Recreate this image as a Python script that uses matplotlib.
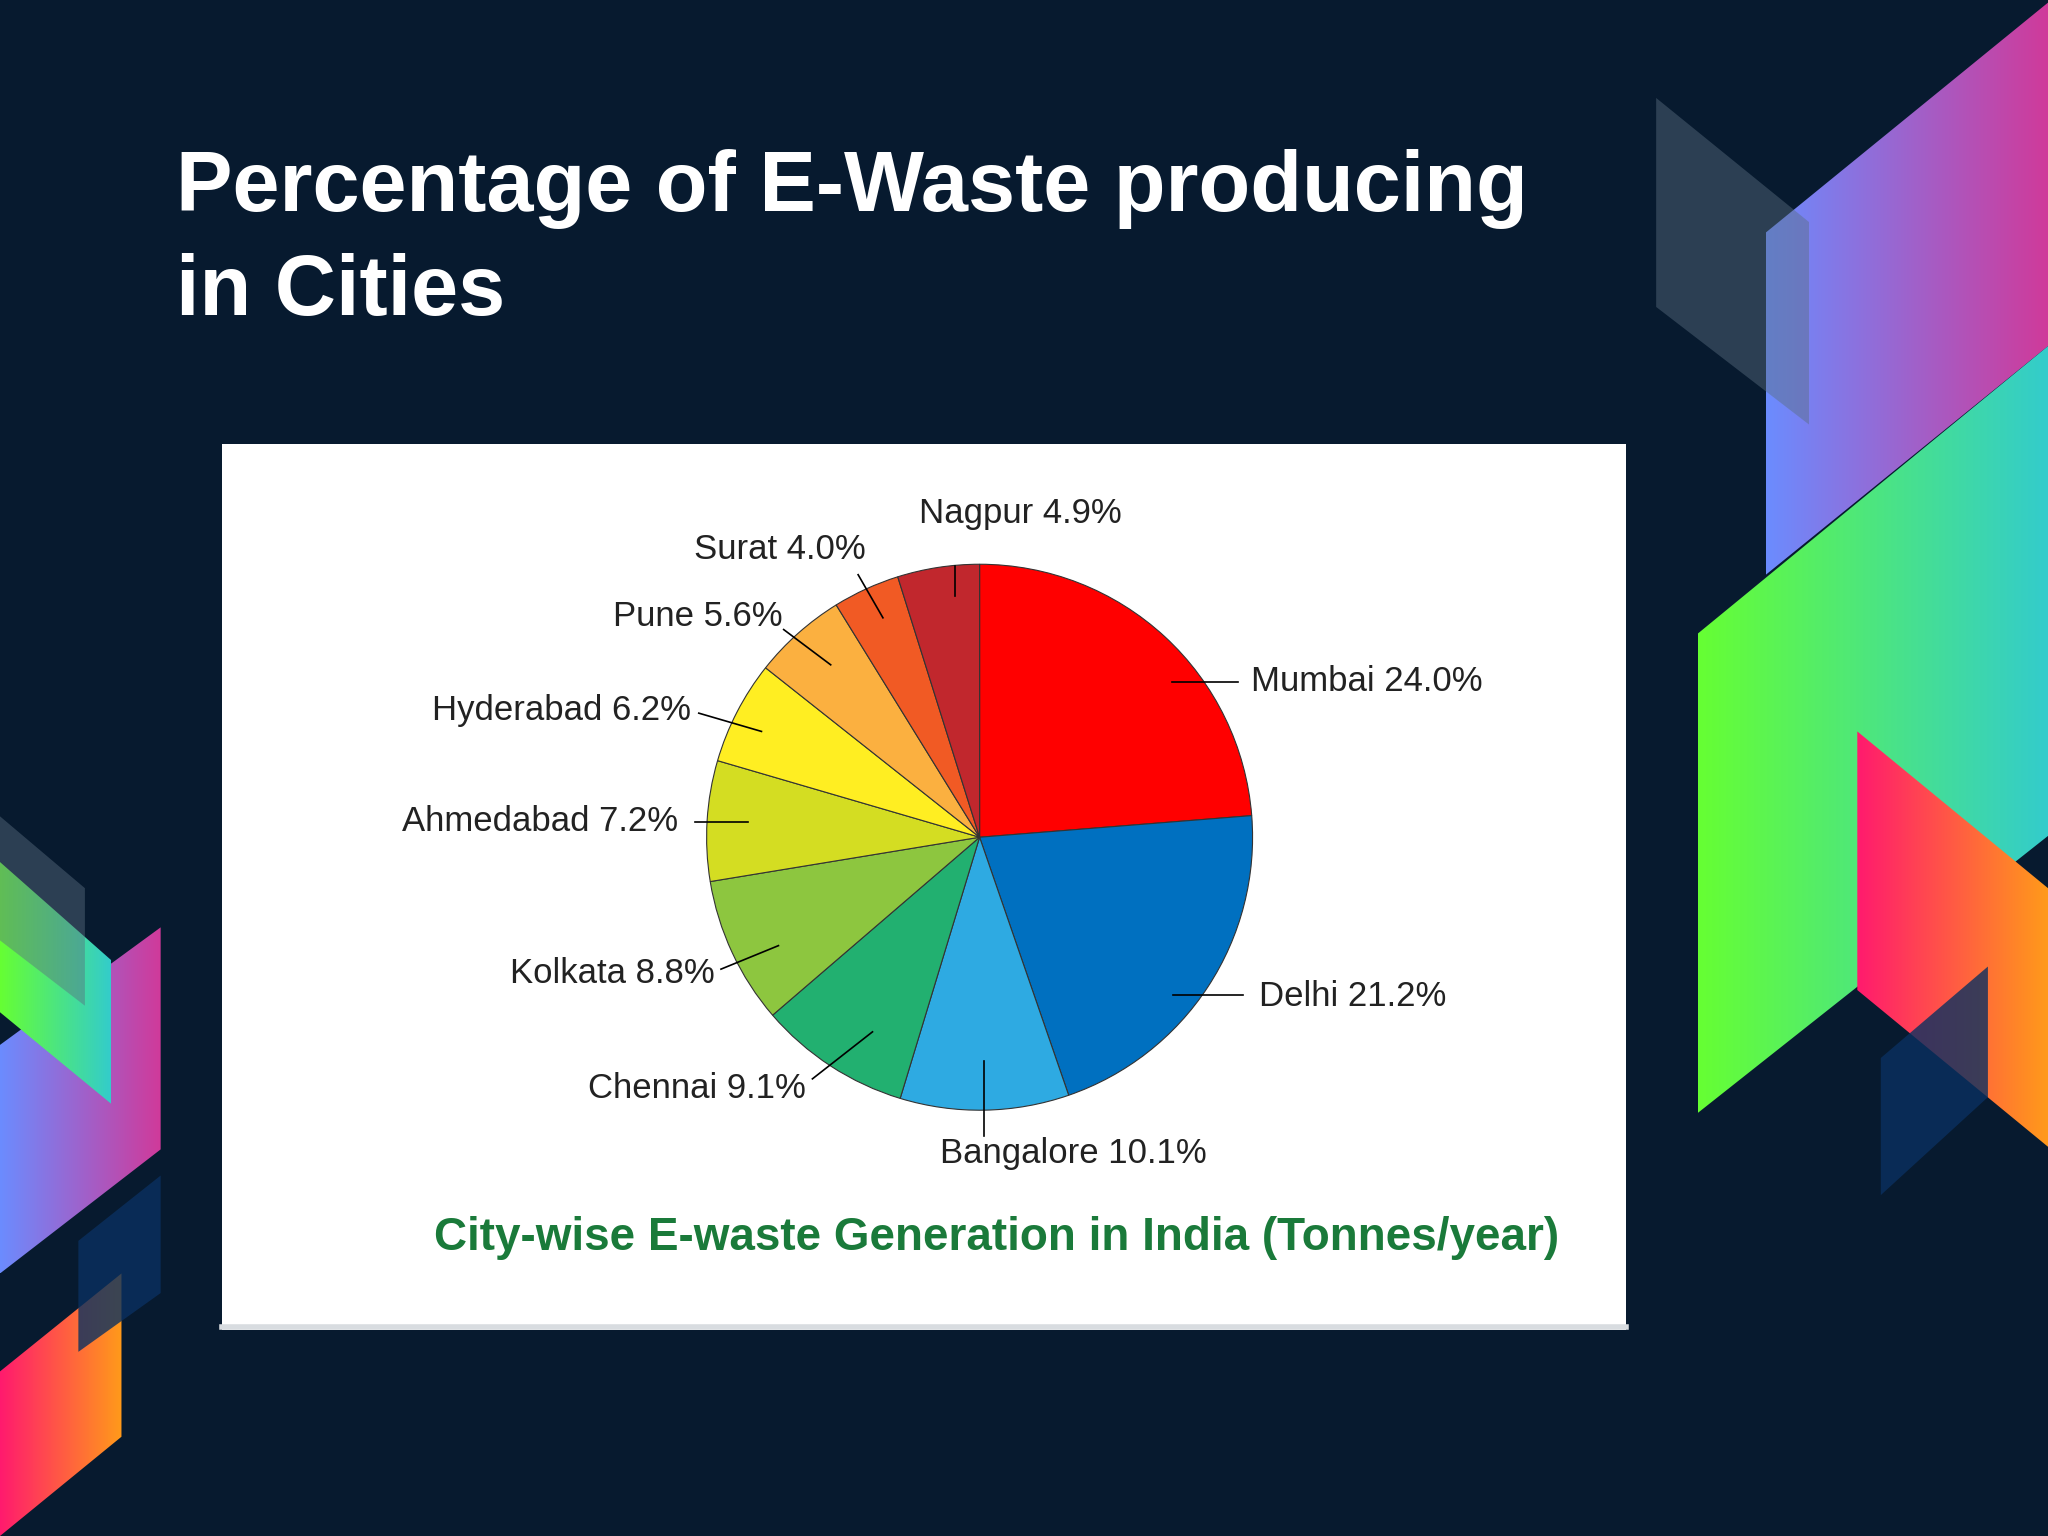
import numpy as np
import matplotlib
matplotlib.use('Agg')
import matplotlib.pyplot as plt
from matplotlib.patches import Polygon, Rectangle
from matplotlib.colors import LinearSegmentedColormap

plt.rcParams['font.family'] = ['Liberation Sans', 'DejaVu Sans']

cities = ['Mumbai', 'Delhi', 'Bangalore', 'Chennai', 'Kolkata',
          'Ahmedabad', 'Hyderabad', 'Pune', 'Surat', 'Nagpur']
shares = [24.0, 21.2, 10.1, 9.1, 8.8, 7.2, 6.2, 5.6, 4.0, 4.9]
colors = ['#ff0000', '#0070c0', '#2eaae2', '#22b070', '#8dc63f',
          '#d4dd22', '#ffee22', '#fbb040', '#f15a24', '#c1272d']

W, H = 1568, 1176  # layout units
fig = plt.figure(figsize=(20.48, 15.36), dpi=100)
fig.patch.set_facecolor('#071a2f')
bg = fig.add_axes([0, 0, 1, 1])
bg.set_xlim(0, W)
bg.set_ylim(H, 0)
bg.axis('off')


def grad_poly(pts, c1, c2, alpha=1.0):
    poly = Polygon(pts, closed=True, facecolor='none', edgecolor='none')
    bg.add_patch(poly)
    xs = [p[0] for p in pts]
    ys = [p[1] for p in pts]
    cmap = LinearSegmentedColormap.from_list('g', [c1, c2])
    g = np.linspace(0, 1, 256).reshape(1, -1)
    im = bg.imshow(g, cmap=cmap, aspect='auto', alpha=alpha,
                   extent=(min(xs), max(xs), max(ys), min(ys)))
    im.set_clip_path(poly)


# right-side decoration
bg.add_patch(Polygon([(1268, 75), (1385, 170), (1385, 325), (1268, 235)],
                     facecolor='#5a6e80', alpha=0.45, edgecolor='none'))
grad_poly([(1352, 178), (1568, 2), (1568, 265), (1352, 440)], '#6b8cff', '#d03a9a')
grad_poly([(1300, 485), (1568, 265), (1568, 640), (1300, 852)], '#66ff33', '#33cccc')
grad_poly([(1422, 560), (1568, 680), (1568, 878), (1422, 758)], '#ff1a6e', '#ff9a1a')
bg.add_patch(Polygon([(1440, 810), (1522, 740), (1522, 840), (1440, 915)],
                     facecolor='#0a3060', alpha=0.8, edgecolor='none'))
# left-side decoration
grad_poly([(0, 800), (123, 710), (123, 880), (0, 975)], '#6b8cff', '#d03a9a')
grad_poly([(0, 660), (85, 735), (85, 845), (0, 775)], '#66ff33', '#33cccc')
bg.add_patch(Polygon([(0, 625), (65, 680), (65, 770), (0, 720)],
                     facecolor='#5a6e80', alpha=0.45, edgecolor='none'))
grad_poly([(0, 1050), (93, 975), (93, 1100), (0, 1176)], '#ff1a6e', '#ff9a1a')
bg.add_patch(Polygon([(60, 950), (123, 900), (123, 990), (60, 1035)],
                     facecolor='#0a3060', alpha=0.8, edgecolor='none'))

# title
for line, y in [('Percentage of E-Waste producing', 145), ('in Cities', 224)]:
    bg.text(135, y, line, color='white', fontsize=61, fontweight='bold',
            va='center', ha='left')

# white panel
bg.add_patch(Rectangle((170, 340), 1075, 678, facecolor='white', edgecolor='none'))
bg.plot([170, 1245], [1016, 1016], color='#d8dce0', lw=4)
bg.text(763, 948, 'City-wise E-waste Generation in India (Tonnes/year)',
        color='#1a7a3a', fontsize=33, fontweight='bold', ha='center', va='center')

# pie
cx, cy, r = 750, 641, 209
side = 600
ax = fig.add_axes([(cx - side / 2) / W, 1 - (cy + side / 2) / H, side / W, side / H])
R = side / 2 / r
ax.pie(shares, colors=colors, startangle=90, counterclock=False, radius=1,
       wedgeprops=dict(edgecolor='#333333', linewidth=0.8))
ax.set_xlim(-R, R)
ax.set_ylim(-R, R)
ax.axis('off')

# label positions (text xy, ha, line start, line end) in layout units
labels = [
    ((958, 522), 'left', (897, 522), (948, 522)),
    ((964, 763), 'left', (898, 762), (952, 762)),
    ((822, 883), 'center', (753, 812), (753, 870)),
    ((617, 833), 'right', (668, 790), (622, 826)),
    ((547, 745), 'right', (596, 724), (552, 742)),
    ((519, 629), 'right', (573, 629), (532, 629)),
    ((529, 544), 'right', (583, 560), (535, 546)),
    ((599, 472), 'right', (636, 509), (600, 482)),
    ((663, 421), 'right', (676, 473), (657, 440)),
    ((781, 393), 'center', (731, 456), (731, 433)),
]


def to_pie(p):
    return ((p[0] - cx) / r, (cy - p[1]) / r)


for city, val, (txy, ha, l0, l1) in zip(cities, shares, labels):
    a, b = to_pie(l0), to_pie(l1)
    ax.plot([a[0], b[0]], [a[1], b[1]], color='black', lw=1.2, clip_on=False)
    tx, ty = to_pie(txy)
    ax.text(tx, ty, f'{city} {val:.1f}%', ha=ha, va='center', fontsize=25,
            color='#222222', clip_on=False)

fig.savefig('out.png', dpi=100, facecolor=fig.get_facecolor())
